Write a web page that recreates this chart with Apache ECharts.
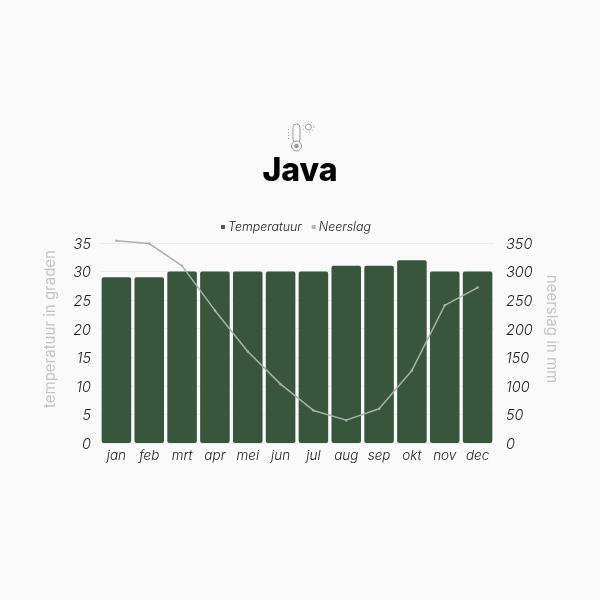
<!DOCTYPE html>
<html><head><meta charset="utf-8">
<style>html,body{margin:0;padding:0;background:#fafafa}#c{width:600px;height:600px}</style>
<script src="https://cdn.jsdelivr.net/npm/echarts@6/dist/echarts.min.js"></script>
</head><body><div id="c"></div>
<script>
const categories=['jan','feb','mrt','apr','mei','jun','jul','aug','sep','okt','nov','dec'];
const temperatuur=[29,29,30,30,30,30,30,31,31,32,30,30];
const neerslag=[354,349,310,232,160,103,57,40,60,127,241,272];
const leftTicks=[0,35,5];
const rightTicks=[0,350,50];
const font='Inter';
const grey='#c4c4c4', ic='#9a9a9a';
const chart=echarts.init(document.getElementById('c'),null,{renderer:'canvas'});
const labelStyle={color:'#222',fontFamily:font,fontStyle:'italic',fontWeight:300,fontSize:14.5};
chart.setOption({
 backgroundColor:'#fafafa',animation:false,
 title:{text:'Java',left:'center',top:150,textStyle:{fontFamily:font,fontWeight:800,fontSize:32,color:'#000'}},
 legend:{top:216,left:216,itemWidth:4,itemHeight:4,itemGap:10,icon:'rect',
  textStyle:{fontFamily:font,fontStyle:'italic',fontWeight:300,fontSize:12.4,color:'#222',padding:[0,0,0,-2]},
  data:[{name:'Temperatuur',itemStyle:{color:'#555'}},{name:'Neerslag',itemStyle:{color:'#b5b5b5'}}]},
 grid:{left:100,right:106,top:243,bottom:157},
 xAxis:{type:'category',data:categories,axisLine:{show:false},axisTick:{show:false},
  axisLabel:Object.assign({},labelStyle,{margin:6,fontSize:13.5,interval:0})},
 yAxis:[
  {type:'value',min:leftTicks[0],max:leftTicks[1],interval:leftTicks[2],axisLine:{show:false},axisTick:{show:false},
   name:'temperatuur in graden',nameLocation:'middle',nameGap:42,
   nameTextStyle:{color:grey,fontFamily:font,fontSize:15,padding:[0,0,0,28]},
   splitLine:{lineStyle:{color:'#ececec',width:1}},axisLabel:Object.assign({},labelStyle,{margin:9,verticalAlign:'top',padding:[-6,0,0,0]})},
  {type:'value',min:rightTicks[0],max:rightTicks[1],interval:rightTicks[2],axisLine:{show:false},axisTick:{show:false},
   name:'neerslag in mm',nameLocation:'middle',nameGap:50,nameRotate:-90,
   nameTextStyle:{color:grey,fontFamily:font,fontSize:15,padding:[0,28,0,0]},
   splitLine:{show:false},axisLabel:Object.assign({},labelStyle,{margin:12,verticalAlign:'top',padding:[-6,0,0,0]})}
 ],
 series:[
  {name:'Temperatuur',type:'bar',data:temperatuur,barCategoryGap:'10%',itemStyle:{color:'#37563c',borderRadius:2}},
  {name:'Neerslag',type:'line',yAxisIndex:1,data:neerslag,symbol:'circle',symbolSize:2.5,z:5,clip:false,
   lineStyle:{color:'#a9b3a9',width:1.5},itemStyle:{color:'#a9b3a9'}}
 ],
 graphic:[
  {type:'group',left:286,top:119,silent:true,children:[
   {type:'rect',shape:{x:6.5,y:0,width:7,height:19,r:3.5},style:{fill:'none',stroke:ic,lineWidth:1}},
   {type:'circle',shape:{cx:10,cy:22,r:5},style:{fill:'#fafafa',stroke:ic,lineWidth:1}},
   {type:'circle',shape:{cx:10,cy:22,r:2.2},style:{fill:ic}},
   {type:'line',shape:{x1:2,y1:5,x2:2,y2:17},style:{stroke:ic,lineWidth:1,lineDash:[1,2]}},
   {type:'circle',shape:{cx:22,cy:3,r:3},style:{fill:'none',stroke:ic,lineWidth:1}},
   {type:'circle',shape:{cx:22,cy:3,r:5.5},style:{fill:'none',stroke:ic,lineWidth:1,lineDash:[1,2.5]}}
  ]}
 ]
});
</script></body></html>
